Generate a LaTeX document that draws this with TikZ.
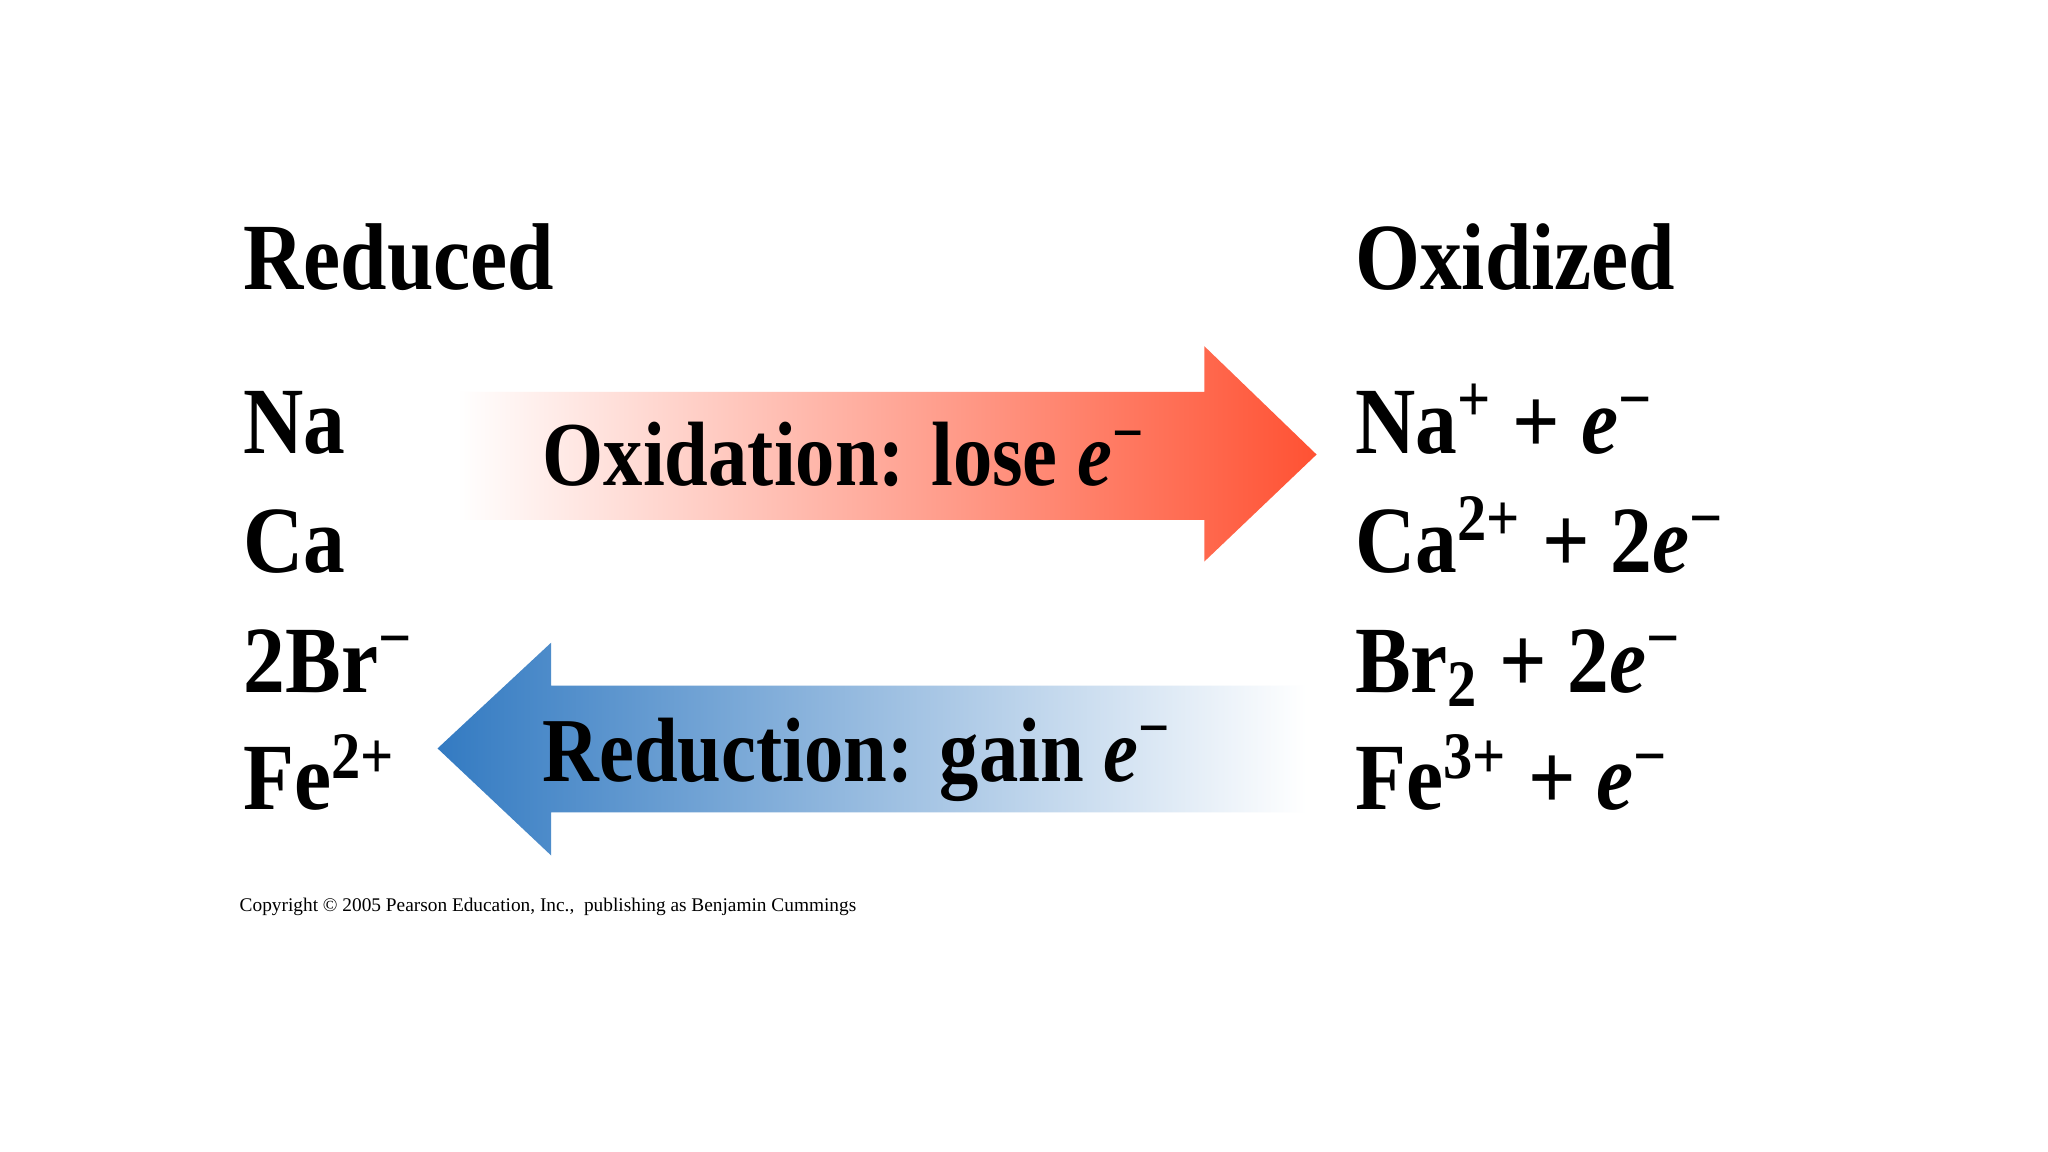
\documentclass[tikz,border=0pt]{standalone}
\usepackage{fontspec}
\setmainfont{Liberation Serif}
\begin{document}
\begin{tikzpicture}[x=0.01306cm,y=-0.01306cm,
  lbl/.style={anchor=base west,inner sep=0pt,font=\bfseries\fontsize{27}{30}\selectfont,xscale=0.88},
  big/.style={anchor=base west,inner sep=0pt,font=\bfseries\fontsize{26}{30}\selectfont,xscale=0.86}]
\useasboundingbox[fill=white] (0,0) rectangle (1568,882);
\newcommand{\el}{\textit{e}\textsuperscript{−}}
% arrows
\shade[left color=white,right color=red!70!orange!80!white] (350,300) -- (922,300) -- (922,265) -- (1008,348) -- (922,430) -- (922,398) -- (350,398) -- cycle;
\shade[left color=blue!50!cyan!70!black!80!white,right color=white] (335,573) -- (422,492) -- (422,525) -- (1000,525) -- (1000,622) -- (422,622) -- (422,655) -- cycle;
\node[big] (ox) at (415,372) {Oxidation: lose \el};
\node[big] (red) at (415,598) {Reduction: gain \el};
% columns
\node[lbl] (hr) at (186,222) {Reduced};
\node[lbl] (ho) at (1037,222) {Oxidized};
\node[lbl] (l1) at (186,347) {Na};
\node[lbl] (l2) at (186,438) {Ca};
\node[lbl] (l3) at (186,530) {2Br\textsuperscript{−}};
\node[lbl] (l4) at (186,620) {Fe\textsuperscript{2+}};
\node[lbl] (r1) at (1037,347) {Na\textsuperscript{+} + \el};
\node[lbl] (r2) at (1037,438) {Ca\textsuperscript{2+} + 2\el};
\node[lbl] (r3) at (1037,530) {Br\textsubscript{2} + 2\el};
\node[lbl] (r4) at (1037,620) {Fe\textsuperscript{3+} + \el};
\node[anchor=base west,inner sep=0pt,font=\fontsize{5.5}{6}\selectfont] (cp) at (183,698) {Copyright © 2005 Pearson Education, Inc.,\ \ publishing as Benjamin Cummings};
\end{tikzpicture}
\end{document}
